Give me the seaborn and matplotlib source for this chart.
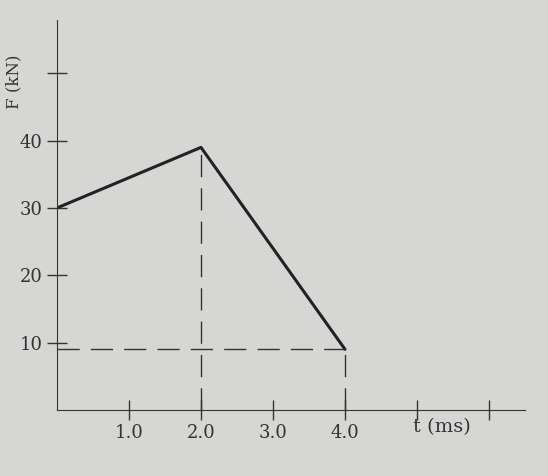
import matplotlib
matplotlib.use("Agg")
import matplotlib.pyplot as plt
import seaborn as sns
import pandas as pd

# force-time history
t_ms = [0.0, 2.0, 4.0]
force_kn = [30, 39, 9]
x_ticks = [1.0, 2.0, 3.0, 4.0, 5.0, 6.0]
x_labels = ["1.0", "2.0", "3.0", "4.0", "", ""]
y_ticks = [10, 20, 30, 40, 50]
y_labels = ["10", "20", "30", "40", ""]

sns.set_style("white")
plt.rcParams["font.family"] = ["DejaVu Serif"]

bg = "#d6d6d4"
fig = plt.figure(figsize=(5.48, 4.76), dpi=100, facecolor=bg)
ax = fig.add_axes([0.104, 0.139, 0.854, 0.82], facecolor=bg)

df = pd.DataFrame({"t": t_ms, "F": force_kn})
sns.lineplot(data=df, x="t", y="F", ax=ax, color="#222222", linewidth=2.2)

dash = dict(color="#333333", linewidth=1.0, dashes=(16, 8))
ax.plot([t_ms[1], t_ms[1]], [0, force_kn[1]], **dash)
ax.plot([0, t_ms[2]], [force_kn[2], force_kn[2]], **dash)
ax.plot([t_ms[2], t_ms[2]], [0, force_kn[2]], **dash)

ax.set_xlim(0, 6.5)
ax.set_ylim(0, 58)
ax.set_xticks(x_ticks)
ax.set_xticklabels(x_labels)
ax.set_yticks(y_ticks)
ax.set_yticklabels(y_labels)
ax.tick_params(bottom=True, left=True, direction="inout", length=14, width=1,
               labelsize=13, colors="#333333")
for s in ["top", "right"]:
    ax.spines[s].set_visible(False)
for s in ["left", "bottom"]:
    ax.spines[s].set_color("#333333")
ax.set_xlabel("")
ax.set_ylabel("F (kN)", fontsize=12, color="#333333")
ax.yaxis.set_label_coords(-0.075, 0.84)
ax.text(5.35, -1.2, "t (ms)", fontsize=14, color="#333333", ha="center", va="top")

fig.savefig("out.png", dpi=100, facecolor=bg)
